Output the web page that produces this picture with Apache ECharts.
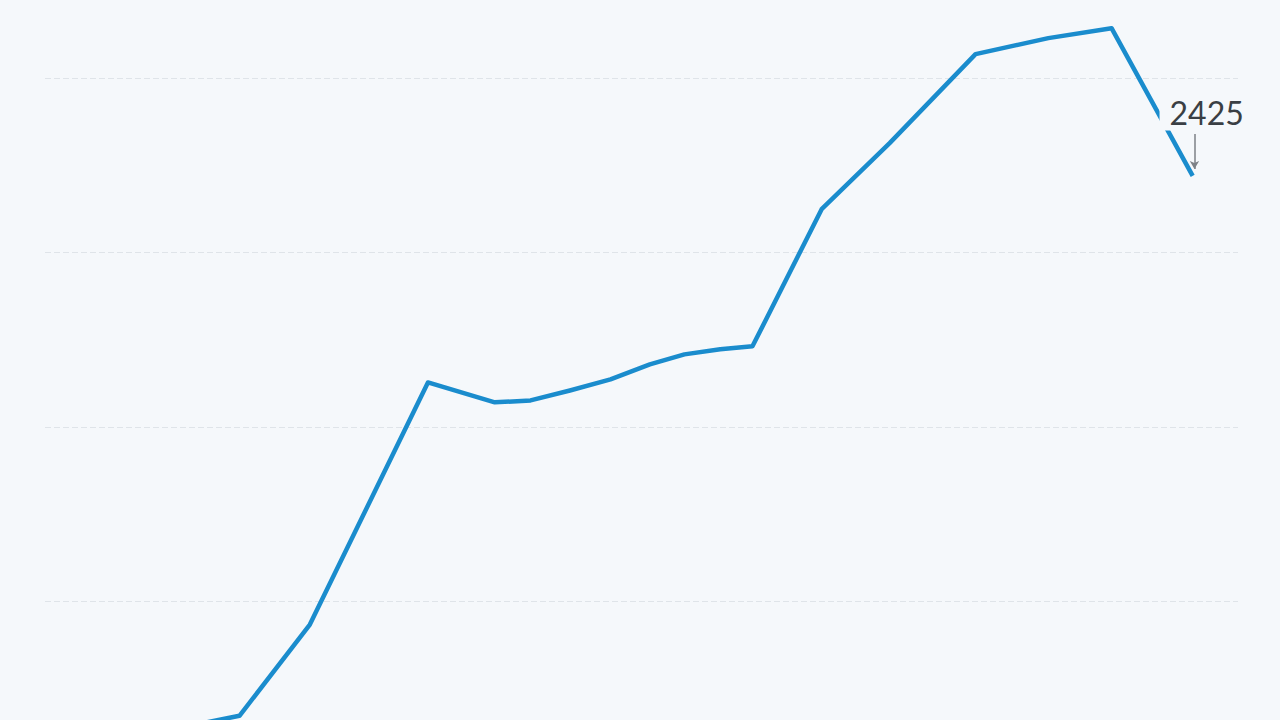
<!DOCTYPE html>
<html>
<head>
<meta charset="utf-8">
<style>
  html, body { margin: 0; padding: 0; background: #f5f8fb; overflow: hidden; }
  #chart { width: 1280px; height: 785px; margin-top: -9px; }
</style>
<script src="https://cdn.jsdelivr.net/npm/echarts@6/dist/echarts.min.js"></script>
</head>
<body>
<div id="chart"></div>
<script>
// position along the period (0..100) and the plotted value
const xPos = [4.6, 10.5, 16.3, 22.2, 32.1, 37.7, 40.7, 44.0, 47.4, 50.7, 53.6, 56.6, 59.3, 65.1, 70.8, 78.0, 84.1, 89.4, 96.2];
const values = [-820, -735, -655, -132, 1256, 1142, 1153, 1210, 1274, 1360, 1417, 1446, 1463, 2249, 2628, 3138, 3230, 3287, 2440];
const lastLabel = '2425';
const arrowFrom = 2680;
const arrowTo = 2480;

const seriesData = xPos.map((x, i) => [x, values[i]]);
const last = seriesData[seriesData.length - 1];

const chart = echarts.init(document.getElementById('chart'), null, {renderer: 'svg'});
chart.setOption({
  backgroundColor: '#f5f8fb',
  animation: false,
  grid: {left: 45, right: 42, top: 0, bottom: 0},
  xAxis: {
    type: 'value',
    min: 0,
    max: 100,
    show: false,
  },
  yAxis: {
    type: 'value',
    min: -1000,
    max: 3500,
    interval: 1000,
    axisLine: {show: false},
    axisTick: {show: false},
    axisLabel: {show: false},
    splitLine: {lineStyle: {color: '#dfe4e9', width: 1, type: [6, 3]}},
  },
  series: [{
    type: 'line',
    data: seriesData,
    showSymbol: false,
    lineStyle: {color: '#1a8ccd', width: 4.5, join: 'round'},
    markLine: {
      silent: true,
      symbol: ['none', 'arrow'],
      symbolSize: [7, 8],
      label: {show: false},
      lineStyle: {color: '#7d8287', width: 1.5, type: 'solid'},
      data: [[{coord: [last[0] + 0.15, arrowFrom]}, {coord: [last[0] + 0.15, arrowTo]}]],
    },
    markPoint: {
      silent: true,
      data: [{
        coord: last,
        symbol: 'circle',
        symbolSize: 1,
        itemStyle: {color: 'rgba(0,0,0,0)'},
        label: {
          show: true,
          formatter: lastLabel,
          position: 'top',
          offset: [14, -40],
          fontFamily: 'Lato',
          fontWeight: 400,
          fontSize: 32,
          color: '#3a3f44',
          backgroundColor: '#f5f8fb',
          padding: [2, 10],
        },
      }],
    },
  }],
});
</script>
</body>
</html>
